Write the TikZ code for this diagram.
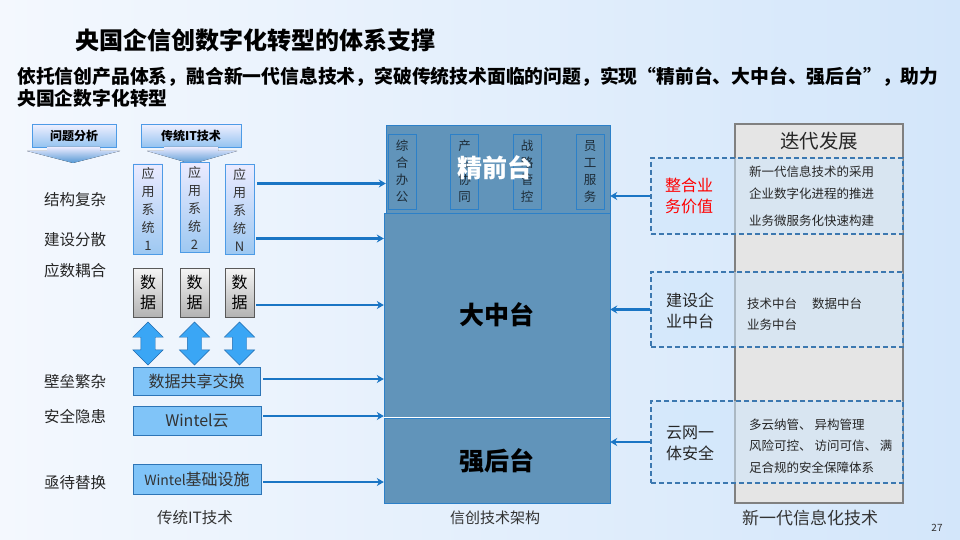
\documentclass[tikz,border=0pt]{standalone}
\usepackage{fontspec}
\setmainfont{Noto Sans CJK SC}
\usetikzlibrary{arrows.meta,shapes.arrows}
\definecolor{arrowblue}{HTML}{1A75C4}
\definecolor{platform}{HTML}{6194BA}
\definecolor{platline}{HTML}{2C80C8}
\definecolor{sharefill}{HTML}{80C4F8}
\definecolor{shareline}{HTML}{2E75B6}
\definecolor{dashline}{HTML}{3C78B0}
\definecolor{dashfill}{HTML}{CFE6FB}
\definecolor{appline}{HTML}{4D9BE6}
\definecolor{dblfill}{HTML}{3AA6F5}
\definecolor{dblline}{HTML}{1F6AAE}
\definecolor{bgleft}{HTML}{F4F8FE}
\definecolor{bgright}{HTML}{D3E6FA}

\begin{document}
\begin{tikzpicture}
  [x=1pt, y=-1pt,
   every node/.style={inner sep=0pt, align=center},
   header/.style={draw=appline, top color=blue!6!white, bottom color=appline!60, minimum height=23, font=\bfseries\fontsize{12}{14}\selectfont},
   funnel/.style={top color=blue!8!white, bottom color=arrowblue!75},
   issue/.style={font=\fontsize{15.5}{18}\selectfont, text=black!85},
   appsys/.style={draw=appline, top color=blue!8!white, bottom color=appline!55, minimum width=29, minimum height=90, font=\fontsize{13}{18}\selectfont, text=black!80},
   databox/.style={draw=black!65, top color=black!4, bottom color=black!30, minimum width=29, minimum height=49, font=\fontsize{16}{20}\selectfont},
   dblarrow/.style={double arrow, shape border rotate=90, draw=dblline, fill=dblfill, inner sep=7pt, minimum width=30, minimum height=43, double arrow head extend=8pt},
   sharebox/.style={draw=shareline, fill=sharefill, minimum width=128, minimum height=29, font=\fontsize{16}{18}\selectfont, text=black!80},
   platbox/.style={draw=platline, fill=platform, font=\bfseries\fontsize{25}{28}\selectfont},
   subbox/.style={draw=platline, fill=platform, minimum width=28, minimum height=75, font=\fontsize{12.5}{17}\selectfont, text=black!70!platform},
   dashbox/.style={draw=dashline, dashed, dash pattern=on 5pt off 3pt, line width=1.3pt, fill=dashfill, fill opacity=0.55, minimum width=252},
   goal/.style={font=\fontsize{16}{21}\selectfont, text=black!85},
   detail/.style={anchor=west, font=\fontsize{12.5}{15}\selectfont, text=black!85},
   caption/.style={font=\fontsize{15.5}{18}\selectfont, text=black!80},
   conn/.style={arrowblue, line width=2.5pt, -{Stealth[length=7pt,width=8pt]}}]

  % background
  \fill[left color=bgleft, right color=bgright] (0,0) rectangle (960,540);

  % title
  \node[font=\bfseries\fontsize{24}{28}\selectfont] (title) at (255,40) {央国企信创数字化转型的体系支撑};
  \node[anchor=north west, align=left, font=\bfseries\fontsize{18.8}{22}\selectfont] (lead) at (17,67)
    {依托信创产品体系，融合新一代信息技术，突破传统技术面临的问题，实现“精前台、大中台、强后台”，助力\\央国企数字化转型};

  % traditional IT side
  \node[header, minimum width=84] (prob) at (74,135.5) {问题分析};
  \node[header, minimum width=100] (trad) at (191,135.5) {传统IT技术};
  \fill[funnel] (47,147) -- (100,147) -- (100,151) -- (120,151) -- (73,163) -- (27,151) -- (47,151) -- cycle;
  \fill[funnel] (164,147) -- (218,147) -- (218,151) -- (237,151) -- (192,164) -- (147,151) -- (164,151) -- cycle;

  \node[issue] (i1) at (75,200) {结构复杂};
  \node[issue] (i2) at (75,240) {建设分散};
  \node[issue] (i3) at (75,271) {应数耦合};
  \node[issue] (i4) at (75,382) {壁垒繁杂};
  \node[issue] (i5) at (75,417) {安全隐患};
  \node[issue] (i6) at (75,483) {亟待替换};

  \node[appsys] (app1) at (148,209) {应\\用\\系\\统\\1};
  \node[appsys] (app2) at (194.5,207.5) {应\\用\\系\\统\\2};
  \node[appsys] (appN) at (239.5,209.5) {应\\用\\系\\统\\N};

  \node[databox] (data1) at (148,292.5) {数\\据};
  \node[databox] (data2) at (194.5,292.5) {数\\据};
  \node[databox] (dataN) at (239.5,292.5) {数\\据};

  \node[dblarrow] (dbl1) at (148,343.5) {};
  \node[dblarrow] (dbl2) at (194.5,343.5) {};
  \node[dblarrow] (dblN) at (239.5,343.5) {};

  \node[sharebox, minimum width=127, minimum height=28] (share) at (196.5,381) {数据共享交换};
  \node[sharebox] (cloud) at (197,420.5) {Wintel云};
  \node[sharebox, minimum height=30] (infra) at (197,479) {{\fontsize{14}{16}\selectfont Wintel}基础设施};
  \node[caption] (tradcap) at (195,518) {传统IT技术};

  % xinchuang architecture
  \node[platbox, minimum width=224, minimum height=88] (front) at (498,169) {};
  \node[subbox] (office) at (402,171.5) {综\\合\\办\\公};
  \node[subbox] (industry) at (464.5,171.5) {产\\业\\协\\同};
  \node[subbox] (strategy) at (527,171.5) {战\\略\\管\\控};
  \node[subbox] (staff) at (590,171.5) {员\\工\\服\\务};
  \node[font=\bfseries\fontsize{25}{28}\selectfont, text=white] (fronttitle) at (495,168) {精前台};
  \node[platbox, minimum width=226, minimum height=204] (middle) at (497,315) {大中台};
  \node[platbox, minimum width=226, minimum height=85] (back) at (497,460.5) {强后台};
  \draw[white, line width=1pt] (middle.south west) -- (middle.south east);
  \node[caption, font=\fontsize{15}{18}\selectfont] (archcap) at (495,518) {信创技术架构};

  % iterative development
  \node[draw=black!50, line width=1.2pt, fill=black!10, minimum width=168, minimum height=379] (iter) at (819,313.5) {};
  \node[font=\fontsize{19.5}{22}\selectfont, text=black!85] (itertitle) at (819,141) {迭代发展};
  \node[dashbox, minimum height=76] (merge) at (777,196) {};
  \node[dashbox, minimum height=75] (build) at (777,309.5) {};
  \node[dashbox, minimum height=82] (secure) at (777,442) {};

  \node[goal, text=red] (mergetext) at (689,196) {整合业\\务价值};
  \node[goal] (buildtext) at (690,311) {建设企\\业中台};
  \node[goal] (securetext) at (690,443) {云网一\\体安全};

  \node[detail] (d1) at (749,172) {新一代信息技术的采用};
  \node[detail] (d2) at (749,194) {企业数字化进程的推进};
  \node[detail] (d3) at (749,221) {业务微服务化快速构建};
  \node[detail] (d4) at (747,304) {技术中台\hspace{15pt}数据中台};
  \node[detail] (d5) at (747,325) {业务中台};
  \node[detail] (d6) at (749,425) {多云纳管、 异构管理};
  \node[detail] (d7) at (749,446) {风险可控、 访问可信、 满};
  \node[detail] (d8) at (749,468) {足合规的安全保障体系};
  \node[caption, font=\fontsize{17}{20}\selectfont] (newcap) at (810,518) {新一代信息化技术};

  \node[font=\fontsize{10}{12}\selectfont, text=black!80] (page) at (937,528) {27};

  % connectors
  \draw[conn] ([xshift=3pt,yshift=26pt]appN.east) -- ([yshift=26pt]appN.east -| front.west);
  \draw[conn] ([xshift=2pt,yshift=-29pt]appN.east) -- ([yshift=-29pt]appN.east -| middle.west);
  \draw[conn] ([xshift=2pt,yshift=-12.5pt]dataN.east) -- ([yshift=-12.5pt]dataN.east -| middle.west);
  \draw[conn] ([xshift=3pt,yshift=2pt]share.east) -- ([yshift=2pt]share.east -| middle.west);
  \draw[conn] ([xshift=2pt,yshift=4.5pt]cloud.east) -- ([yshift=4.5pt]cloud.east -| middle.west);
  \draw[conn] ([xshift=2pt,yshift=-3pt]infra.east) -- ([yshift=-3pt]infra.east -| back.west);
  \draw[conn] (merge.west) -- (merge.west -| front.east);
  \draw[conn] (build.west) -- (build.west -| middle.east);
  \draw[conn] (secure.west) -- (secure.west -| back.east);
\end{tikzpicture}
\end{document}
